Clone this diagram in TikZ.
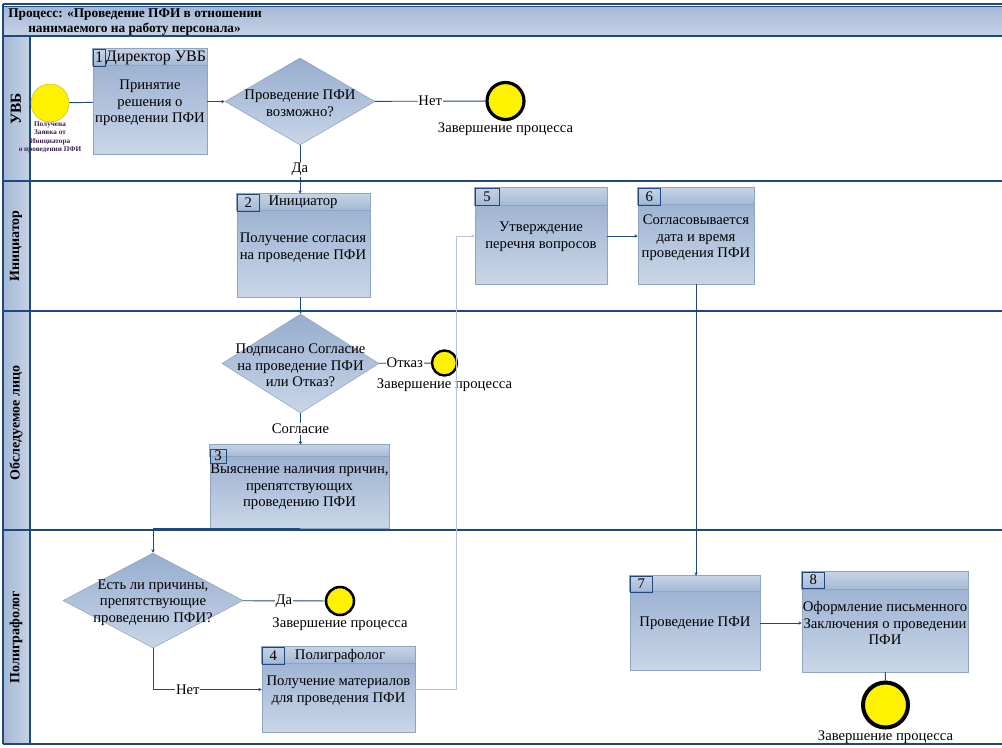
\documentclass[tikz,border=0pt]{standalone}
\usepackage{fontspec}
\setmainfont{Liberation Serif}
\usetikzlibrary{arrows.meta,positioning,shapes.geometric,fit,calc}

\definecolor{laneblue}{HTML}{1F497D}
\definecolor{boxedge}{HTML}{8EA4C2}
\definecolor{bodytop}{HTML}{96ADCF}
\definecolor{bodybot}{HTML}{C9D6E7}
\definecolor{headtop}{HTML}{C6D3E5}
\definecolor{headbot}{HTML}{A4B8D6}
\definecolor{paleline}{HTML}{B4C4DA}
\definecolor{startedge}{HTML}{CDBB2A}
\definecolor{starttext}{HTML}{3A1F4F}

\tikzset{
  lane/.style={draw=laneblue, line width=1pt},
  lanename/.style={rotate=90, font=\bfseries\fontsize{10.5}{12}\selectfont},
  pbox/.style={draw=boxedge, inner sep=0pt, top color=bodytop, bottom color=bodybot},
  ptext/.style={align=center, inner sep=0pt, yshift=-1.5pt, font=\fontsize{11}{12.5}\selectfont},
  numbox/.style={draw=laneblue, inner sep=0pt, anchor=north west, minimum width=17pt,
    minimum height=12.75pt, font=\fontsize{11}{12}\selectfont},
  headtext/.style={font=\fontsize{11}{12}\selectfont},
  decision/.style={diamond, draw=boxedge, inner sep=0pt, top color=bodytop, bottom color=bodybot},
  endev/.style={circle, draw=black, fill=yellow, inner sep=0pt},
  endtext/.style={inner sep=1pt, font=\fontsize{11}{12}\selectfont},
  flow/.style={draw=laneblue, line width=0.7pt, ->},
  conn/.style={draw=laneblue, line width=0.7pt},
  paleflow/.style={draw=paleline, line width=0.7pt, ->},
  ylabel/.style={fill=white, inner sep=0.5pt, font=\fontsize{11}{12}\selectfont},
}

\begin{document}
\begin{tikzpicture}[x=0.75pt, y=-0.75pt, >={Stealth[length=2.5pt,width=2.5pt]}]
\useasboundingbox (0,0) rectangle (1002,747);

% pool and lanes
\shade[top color=headbot, bottom color=headtop] (3,6) rectangle (1002,36);
\shade[left color=headbot, right color=headtop] (3,36) rectangle (30,744);
\draw[lane] (3,4) -- (1002,4);
\draw[lane] (3,6.5) -- (1002,6.5);
\foreach \y in {36,181,311,530,744}
  \draw[lane] (3,\y) -- (1002,\y);
\draw[lane] (3,4) -- (3,744);
\draw[lane] (30,36) -- (30,744);

\node[anchor=north west, align=left, inner sep=0pt, font=\bfseries\fontsize{10}{11.3}\selectfont]
  (title) at (8,8.5) {Процесс: «Проведение ПФИ в отношении\\\hspace*{15pt}нанимаемого на работу персонала»};

\node[lanename, font=\bfseries\fontsize{11.5}{12}\selectfont] (l1) at (16,109) {УВБ};
\node[lanename] (l2) at (16,246) {Инициатор};
\node[lanename] (l3) at (16,423) {Обследуемое лицо};
\node[lanename] (l4) at (16,637) {Полиграфолог};

% start
\node[circle, draw=startedge, fill=yellow, inner sep=0pt, minimum size=28.5pt] (s0) at (50,103) {};
\node[align=center, text=starttext, font=\bfseries\fontsize{5.4}{6.3}\selectfont, below=-4pt of s0]
  (s0t) {Получена\\Заявка от\\Инициатора\\о проведении ПФИ};

% tasks
\node[pbox, fit={(93,49) (207,154)}] (b1) {};
\node[pbox, fit={(237,194) (370,297)}] (b2) {};
\node[pbox, fit={(210,445) (389,528)}] (b3) {};
\node[pbox, fit={(262,647) (415,732)}] (b4) {};
\node[pbox, fit={(475,188) (607,284)}] (b5) {};
\node[pbox, fit={(638,188) (754,284)}] (b6) {};
\node[pbox, fit={(630,576) (760,670)}] (b7) {};
\node[pbox, fit={(802,572) (968,672)}] (b8) {};

\foreach \b/\h in {b1/17,b2/17,b3/12,b4/17,b5/18,b6/17,b7/16,b8/18}
  \shade[top color=headtop, bottom color=headbot, draw=boxedge]
    (\b.north west) rectangle ($(\b.north east)+(0,\h)$);

\node[ptext] (t1) at (150,101) {Принятие\\решения о\\проведении ПФИ};
\node[ptext] (t2) at (303,246) {Получение согласия\\на проведение ПФИ};
\node[ptext] (t3) at (299.5,485) {Выяснение наличия причин,\\препятствующих\\проведению ПФИ};
\node[ptext] (t4) at (338.5,689) {Получение материалов\\для проведения ПФИ};
\node[ptext] (t5) at (541,235) {Утверждение\\перечня вопросов};
\node[ptext] (t6) at (696,236) {Согласовывается\\дата и время\\проведения ПФИ};
\node[ptext] (t7) at (695,621) {Проведение ПФИ};
\node[ptext] (t8) at (885,621) {Оформление письменного\\Заключения о проведении\\ПФИ};

\node[numbox, minimum width=9pt, minimum height=12.75pt, font=\fontsize{12}{12}\selectfont] (n1) at (b1.north west) {1};
\node[numbox] (n2) at (b2.north west) {2};
\node[numbox, minimum width=12pt, minimum height=10.5pt, yshift=-3pt] (n3) at (b3.north west) {3};
\node[numbox] (n4) at (b4.north west) {4};
\node[numbox, minimum width=18pt, minimum height=13pt] (n5) at (b5.north west) {5};
\node[numbox] (n6) at (b6.north west) {6};
\node[numbox, minimum height=12pt] (n7) at (b7.north west) {7};
\node[numbox, minimum height=12pt] (n8) at (b8.north west) {8};

\node[headtext, font=\fontsize{12}{12}\selectfont] (h1) at (156,58) {Директор УВБ};
\node[headtext] (h2) at (303,202.5) {Инициатор};
\node[headtext] (h4) at (340,655.5) {Полиграфолог};

% decisions
\node[decision, minimum width=112.5pt, minimum height=65.25pt] (d1) at (300,101.5) {};
\node[ptext] (d1t) at (d1) {Проведение ПФИ\\возможно?};
\node[decision, minimum width=117.75pt, minimum height=74.25pt] (d2) at (300.5,363.5) {};
\node[ptext] (d2t) at (d2) {Подписано Согласие\\на проведение ПФИ\\или Отказ?};
\node[decision, minimum width=135pt, minimum height=71.25pt] (d3) at (153,600.5) {};
\node[ptext] (d3t) at (d3) {Есть ли причины,\\препятствующие\\проведению ПФИ?};

% end events
\node[endev, minimum size=27.75pt, line width=2.4pt] (e1) at (505.5,101) {};
\node[endtext, below=0pt of e1] (e1t) {Завершение процесса};
\node[endev, minimum size=18.75pt, line width=1.8pt] (e2) at (444.5,363) {};
\node[endtext, below=0pt of e2] (e2t) {Завершение процесса};
\node[endev, minimum size=21pt, line width=1.9pt] (e3) at (340,601) {};
\node[endtext, below=0pt of e3] (e3t) {Завершение процесса};
\node[endev, minimum size=33.75pt, line width=3pt] (e4) at (885.5,705) {};
\node[endtext, below=0pt of e4] (e4t) {Завершение процесса};

% connectors
\draw[conn] (s0) -- (b1);
\draw[flow] (b1) -- (d1);
\draw[conn] (d1) -- node[ylabel] {Нет} (e1);
\draw[flow] (d1.south) -- node[ylabel] {Да} (d1.south |- b2.north);
\draw[flow] (b2.south -| d2.north) -- (d2.north);
\draw[conn] (d2) -- node[ylabel] {Отказ} (e2);
\draw[flow] (d2.south) -- node[ylabel] {Согласие} (d2.south |- b3.north);
\draw[flow] (b3.south) -| (d3.north);
\draw[conn] (d3) -- node[ylabel] {Да} (e3);
\draw[flow] (d3.south) |- node[ylabel, pos=0.66] {Нет} (b4.west);
\draw[paleflow] (b4.east) -- ++(41,0) |- (b5.west);
\draw[flow] (b5) -- (b6);
\draw[flow] (b6.south) -- (b6.south |- b7.north);
\draw[flow] (b7.east) -- (b7.east -| b8.west);
\draw[conn] (b8) -- (e4);
\end{tikzpicture}
\end{document}
